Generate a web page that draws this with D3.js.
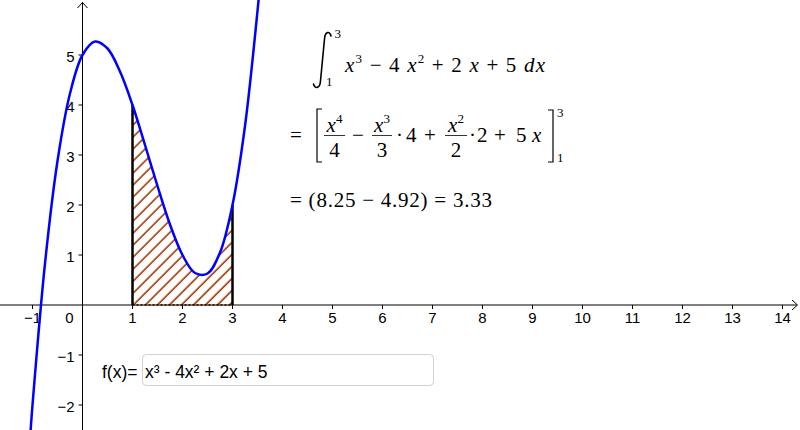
<!DOCTYPE html>
<html><head><meta charset="utf-8">
<script src="https://cdn.jsdelivr.net/npm/d3@7"></script>
<style>body{margin:0;background:#fff}svg{display:block}</style>
</head><body>
<svg id="c" width="800" height="430"></svg>
<script>
const curveX = [-1.05,-1,-0.75,-0.5,-0.25,0,0.25,0.5,0.75,1,1.25,1.5,1.75,2,2.25,2.5,2.75,3,3.25,3.5,3.55];
const curveY = [-2.67,-2,0.83,2.88,4.23,5,5.27,5.13,4.67,4,3.2,2.38,1.61,1,0.64,0.63,1.05,2,3.58,5.88,6.43];
const xTicks = [-1,1,2,3,4,5,6,7,8,9,10,11,12,13,14];
const yTicks = [-2,-1,1,2,3,4,5];
const bounds = [1,3];
const inputLabel = "f(x)=";
const inputText = "x³ - 4x² + 2x + 5";
const resultText = "= (8.25 \u2212 4.92) = 3.33";

const W=800,H=430;
const x=d3.scaleLinear().domain([-1.65,14.35]).range([0,W]);
const y=d3.scaleLinear().domain([-2.5,6.1]).range([H,0]);
const svg=d3.select("#c");
const pts=curveX.map((v,i)=>({x:v,y:curveY[i]}));

const defs=svg.append("defs");
const pat=defs.append("pattern").attr("id","hatch").attr("patternUnits","userSpaceOnUse")
  .attr("width",8.5).attr("height",8.5).attr("patternTransform","rotate(45)");
pat.append("line").attr("x1",4).attr("y1",-1).attr("x2",4).attr("y2",10)
  .attr("stroke","#993300").attr("stroke-width",1.6);
defs.append("clipPath").attr("id","plot").append("rect").attr("width",W).attr("height",H);

// shaded area
const inside=pts.filter(p=>p.x>=bounds[0]&&p.x<=bounds[1]);
svg.append("path").datum(inside)
  .attr("d",d3.area().x(d=>x(d.x)).y0(y(0)).y1(d=>y(d.y)).curve(d3.curveCatmullRom))
  .attr("fill","url(#hatch)");
svg.append("line").attr("x1",x(bounds[0])).attr("x2",x(bounds[1])).attr("y1",y(0)).attr("y2",y(0))
  .attr("stroke","#993300").attr("stroke-width",2).attr("stroke-dasharray","2,2");

// axes
const SANS="Liberation Sans, Arial, sans-serif";
const g=svg.append("g").attr("font-family",SANS).attr("font-size",15);
g.append("line").attr("x1",0).attr("x2",W-3).attr("y1",y(0)).attr("y2",y(0)).attr("stroke","#000");
g.append("line").attr("x1",x(0)).attr("x2",x(0)).attr("y1",H).attr("y2",2).attr("stroke","#000");
g.append("path").attr("d",`M${W-8},${y(0)-5}L${W-2.5},${y(0)}L${W-8},${y(0)+5}`).attr("fill","none").attr("stroke","#000");
g.append("path").attr("d",`M${x(0)-5},8L${x(0)},2.5L${x(0)+5},8`).attr("fill","none").attr("stroke","#000");
xTicks.forEach(t=>{
  g.append("line").attr("x1",x(t)).attr("x2",x(t)).attr("y1",y(0)).attr("y2",y(0)+4).attr("stroke","#000");
  g.append("text").attr("x",x(t)).attr("y",y(0)+18).attr("text-anchor","middle").text(t<0?"\u2212"+(-t):t);
});
g.append("text").attr("x",x(0)-9).attr("y",y(0)+18).attr("text-anchor","end").text("0");
yTicks.forEach(t=>{
  g.append("line").attr("x1",x(0)-4).attr("x2",x(0)).attr("y1",y(t)).attr("y2",y(t)).attr("stroke","#000");
  g.append("text").attr("x",x(0)-8).attr("y",y(t)+7).attr("text-anchor","end").text(t<0?"\u2212"+(-t):t);
});

// bound lines
bounds.forEach(b=>{
  const p=pts.find(q=>q.x===b);
  svg.append("line").attr("x1",x(b)).attr("x2",x(b)).attr("y1",y(0)).attr("y2",y(p.y))
    .attr("stroke","#000").attr("stroke-width",2.5);
});

// curve
svg.append("path").datum(pts).attr("clip-path","url(#plot)")
  .attr("d",d3.line().x(d=>x(d.x)).y(d=>y(d.y)).curve(d3.curveCatmullRom))
  .attr("fill","none").attr("stroke","#0000ff").attr("stroke-width",2.5);

// math text
const SERIF="Liberation Serif, DejaVu Serif, serif";
const m=svg.append("g").attr("font-family",SERIF).attr("font-size",21).attr("fill","#000");
function t(xp,yp,s,opt={}){const e=m.append("text").attr("x",xp).attr("y",yp).text(s);
  if(opt.it)e.attr("font-style","italic"); if(opt.fs)e.attr("font-size",opt.fs); if(opt.a)e.attr("text-anchor",opt.a); return e;}
// line 1: integral sign
m.append("path").attr("d","M313.5,84 C314.5,89 320,89 320.5,81 L324.5,39 C325,31 330,31 331,36")
  .attr("fill","none").attr("stroke","#000").attr("stroke-width",1.6).attr("stroke-linecap","round");
t(334.5,38,"3",{fs:13}); t(326,86,"1",{fs:13});
const l1=m.append("text").attr("x",345).attr("y",72).attr("textLength",200).attr("lengthAdjust","spacing");
l1.append("tspan").attr("font-style","italic").text("x");
l1.append("tspan").attr("font-size",13).attr("dy",-9).text("3");
l1.append("tspan").attr("dy",9).text(" \u2212 4 ");
l1.append("tspan").attr("font-style","italic").text("x");
l1.append("tspan").attr("font-size",13).attr("dy",-9).text("2");
l1.append("tspan").attr("dy",9).text(" + 2 ");
l1.append("tspan").attr("font-style","italic").text("x");
l1.append("tspan").text(" + 5 ");
l1.append("tspan").attr("font-style","italic").text("dx");
// line 2
t(290,142,"=");
m.append("path").attr("d","M322,109H317V162H322").attr("fill","none").attr("stroke","#000").attr("stroke-width",1.2);
m.append("path").attr("d","M548,110H553V162H548").attr("fill","none").attr("stroke","#000").attr("stroke-width",1.2);
function frac(x0,x1,num,den){
  const cx=(x0+x1)/2;
  const n=m.append("text").attr("x",cx).attr("y",132).attr("text-anchor","middle");
  n.append("tspan").attr("font-style","italic").text("x");
  n.append("tspan").attr("font-size",13).attr("dy",-9).text(num);
  t(cx,157,den,{a:"middle"});
  m.append("line").attr("x1",x0).attr("x2",x1).attr("y1",135.5).attr("y2",135.5).attr("stroke","#000").attr("stroke-width",0.8);
}
frac(324,345,"4","4");
t(352,142,"\u2212");
frac(372,392,"3","3");
t(396,142,"\u00B7");
t(406,142,"4");
t(424,142,"+");
frac(445,467,"2","2");
t(469,142,"\u00B7");
t(477,142,"2");
t(494,142,"+");
t(516,142,"5");
t(532,142,"x",{it:true});
t(557,117,"3",{fs:13}); t(557,162,"1",{fs:13});
// line 3
t(290,207,resultText).attr("textLength",202).attr("lengthAdjust","spacing");

// input box
svg.append("text").attr("x",102).attr("y",378).attr("font-family",SANS).attr("font-size",17.5).text(inputLabel);
svg.append("rect").attr("x",142.5).attr("y",354.5).attr("width",291).attr("height",31).attr("rx",4)
  .attr("fill","#fff").attr("stroke","#d0d0d0");
svg.append("text").attr("x",145).attr("y",378).attr("font-family",SANS).attr("font-size",17.5).text(inputText);
</script>
</body></html>
